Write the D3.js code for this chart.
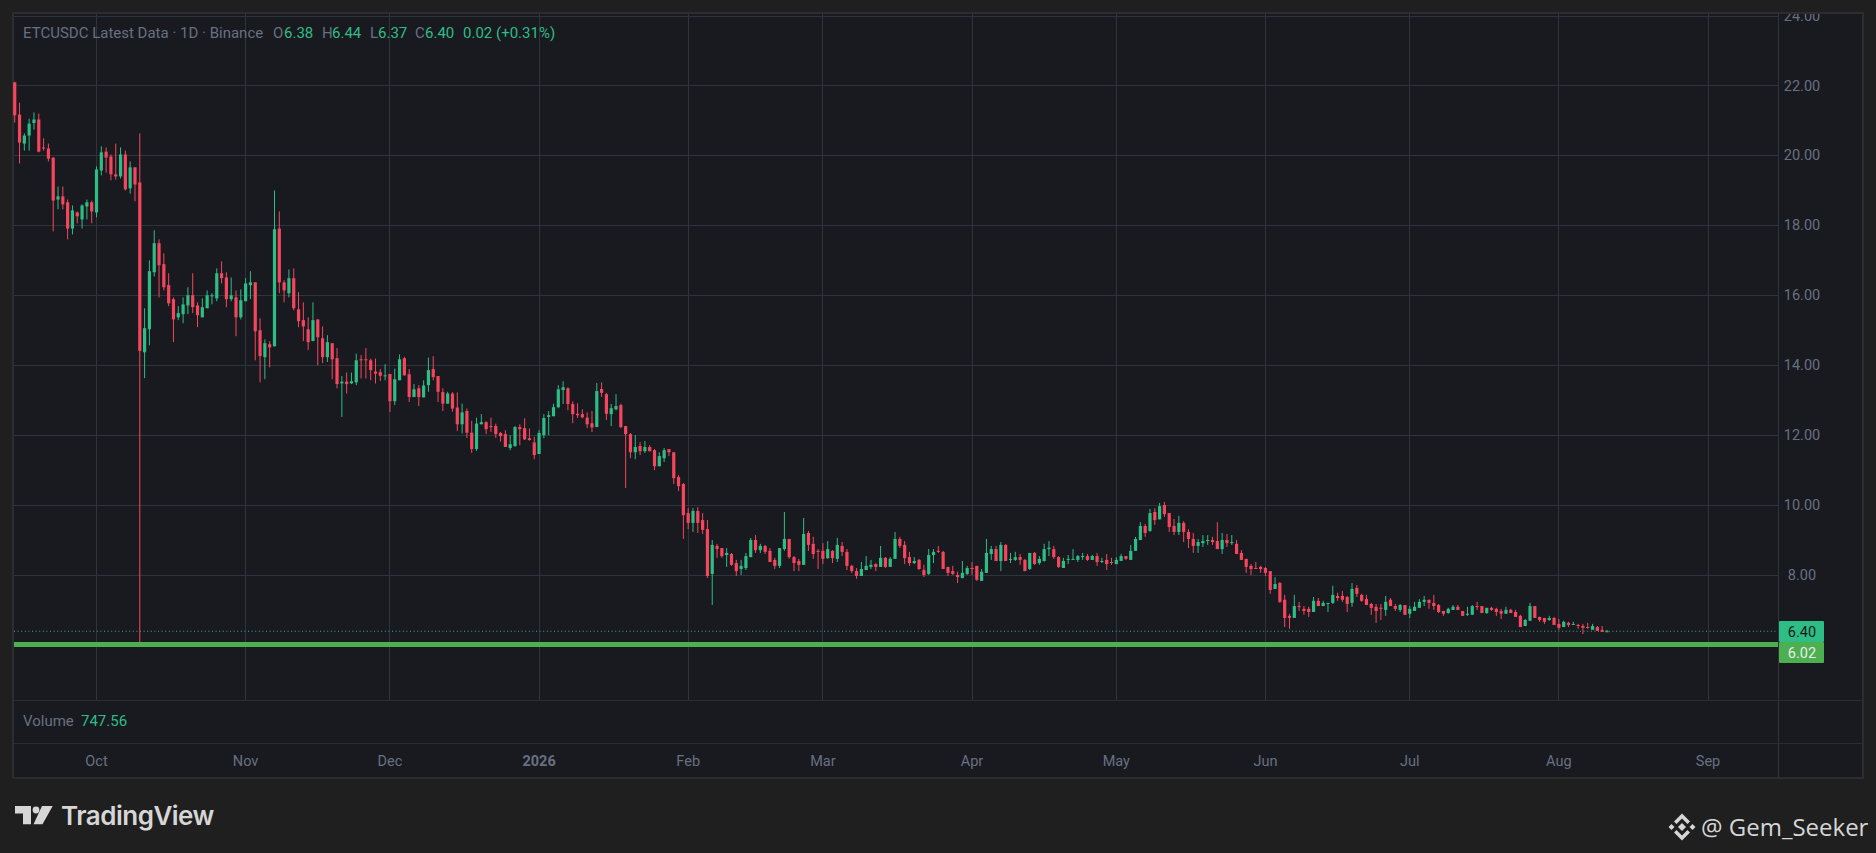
<!DOCTYPE html>
<html>
<head>
<meta charset="utf-8">
<script src="https://cdn.jsdelivr.net/npm/d3@7"></script>
<style>
html, body { margin:0; padding:0; background:#1f1f1f; overflow:hidden; }
text { font-family:Roboto, "Liberation Sans", sans-serif; }
</style>
</head>
<body>
<svg id="chart" width="1876" height="853"></svg>
<script>
// daily candles, first one is 14 Sep 2025
var firstDay = new Date(2025, 8, 14)

var opens = [
22.10,21.18,20.35,20.58,20.94,21.04,20.24,20.21,19.95,18.75,
18.84,18.67,17.92,18.38,18.18,18.55,18.67,18.38,19.58,20.12,
19.98,19.47,19.41,20.04,19.07,19.67,19.24,14.38,15.04,16.67,
17.50,16.90,16.30,15.90,15.38,15.47,15.72,16.01,15.72,15.38,
15.64,15.98,15.92,16.64,16.52,15.90,15.95,15.38,15.84,16.30,
16.38,15.01,14.24,14.61,14.55,17.92,16.38,16.07,16.50,15.61,
15.30,15.04,14.70,15.32,14.78,14.24,14.64,14.21,13.49,13.54,
13.49,13.52,14.18,14.18,14.15,13.83,13.81,13.70,13.76,12.98,
13.58,14.21,13.75,13.10,13.35,13.09,13.44,13.90,13.70,13.24,
12.91,13.20,12.80,12.32,12.70,12.08,11.61,12.32,12.38,12.27,
12.27,12.07,12.04,11.64,11.70,12.24,12.21,11.92,11.80,11.47,
12.01,12.53,12.55,12.81,13.30,13.35,12.90,12.62,12.61,12.51,
12.35,12.24,13.33,13.18,12.61,12.75,12.87,12.27,12.04,11.52,
11.70,11.55,11.67,11.58,11.12,11.35,11.61,11.52,10.81,10.61,
9.78,9.50,9.84,9.58,9.32,8.04,8.84,8.78,8.58,8.61,
8.35,8.18,8.21,8.52,9.01,8.72,8.84,8.70,8.44,8.27,
8.75,9.04,8.52,8.41,8.30,9.21,8.90,8.70,8.70,8.49,
8.70,8.47,8.84,8.67,8.27,8.12,7.98,8.15,8.24,8.32,
8.24,8.50,8.24,8.47,9.04,8.87,8.52,8.35,8.44,8.15,
8.04,8.58,8.70,8.67,8.24,8.12,8.01,7.92,8.04,8.21,
8.27,7.84,8.07,8.61,8.75,8.41,8.87,8.44,8.44,8.52,
8.44,8.18,8.64,8.35,8.41,8.75,8.75,8.52,8.21,8.44,
8.44,8.44,8.52,8.55,8.44,8.55,8.38,8.44,8.38,8.32,
8.41,8.55,8.44,8.70,9.01,9.41,9.27,9.81,9.60,10.01,
9.78,9.41,9.24,9.50,9.24,9.04,8.84,8.92,8.98,9.01,
8.98,8.75,9.01,8.92,8.90,8.64,8.47,8.27,8.21,8.24,
8.21,8.12,7.61,7.78,7.30,6.84,6.78,7.12,7.04,7.04,
6.95,7.27,7.12,7.18,7.21,7.41,7.41,7.38,7.21,7.64,
7.44,7.32,7.18,7.10,7.07,7.01,7.30,7.12,7.01,7.15,
6.90,6.98,7.07,7.24,7.30,7.21,7.15,6.98,6.92,7.01,
7.10,6.98,6.87,6.87,7.12,7.12,6.92,7.07,7.04,6.98,
6.90,7.01,6.95,6.84,6.55,6.70,7.12,6.81,6.78,6.72,
6.78,6.61,6.52,6.64,6.58,6.58,6.55,6.52,6.44,6.52,6.44,6.38
]
var highs = [
22.12,21.52,20.64,21.06,21.24,21.21,20.50,20.35,19.95,19.12,
19.12,18.75,18.58,18.41,18.61,18.75,18.72,19.70,20.27,20.24,
20.04,20.35,20.24,20.15,19.84,19.67,20.64,15.64,17.01,17.87,
17.61,17.21,16.64,15.95,15.70,15.95,16.24,16.64,15.81,15.92,
16.15,16.07,16.78,16.98,16.67,16.52,16.15,16.18,16.50,16.70,
16.38,15.35,14.75,14.70,19.01,18.41,16.44,16.75,16.78,16.10,
15.81,15.38,15.81,15.32,15.12,14.87,14.64,14.50,13.70,13.80,
13.80,14.34,14.30,14.50,14.20,14.20,13.90,14.04,13.76,13.91,
14.32,14.25,13.90,13.47,13.44,13.58,14.23,14.27,13.70,13.35,
13.25,13.24,13.23,12.91,12.77,12.42,12.51,12.61,12.41,12.51,
12.34,12.10,12.15,12.01,12.27,12.32,12.49,12.20,11.96,12.15,
12.61,12.70,12.91,13.44,13.55,13.38,12.98,12.92,12.75,12.66,
12.70,13.50,13.52,13.22,12.90,13.18,12.91,12.27,12.07,12.01,
11.81,11.84,11.72,11.61,11.52,11.64,11.61,11.52,10.87,10.64,
9.92,9.92,9.95,9.78,9.58,9.01,8.90,8.78,8.78,8.64,
8.44,8.44,8.64,9.07,9.15,8.90,8.87,8.78,8.50,8.78,
9.81,9.04,8.55,8.47,9.64,9.27,9.10,8.75,8.92,8.98,
8.72,9.07,8.95,8.75,8.30,8.21,8.38,8.55,8.44,8.35,
8.84,8.52,8.52,9.24,9.10,8.98,8.67,8.52,8.47,8.30,
8.75,8.75,8.84,8.70,8.24,8.27,8.10,8.41,8.27,8.38,
8.27,8.18,9.04,8.84,8.84,8.95,8.89,8.64,8.67,8.61,
8.47,8.64,8.67,8.55,8.90,8.98,8.84,8.55,8.50,8.58,
8.75,8.58,8.64,8.61,8.58,8.64,8.50,8.61,8.50,8.52,
8.61,8.55,8.87,9.10,9.52,9.47,9.90,9.92,10.07,10.10,
9.78,9.61,9.70,9.55,9.32,9.21,9.04,9.15,9.15,9.10,
9.52,9.21,9.18,9.15,9.01,8.72,8.47,8.32,8.38,8.27,
8.24,8.12,7.95,7.81,7.44,6.90,7.44,7.24,7.12,7.10,
7.38,7.35,7.27,7.21,7.70,7.50,7.55,7.41,7.78,7.72,
7.47,7.44,7.21,7.18,7.18,7.41,7.35,7.18,7.18,7.15,
7.12,7.24,7.32,7.41,7.30,7.44,7.18,6.98,7.07,7.15,
7.15,6.98,7.10,7.15,7.24,7.12,7.07,7.10,7.07,7.04,
7.10,7.04,7.01,6.87,6.75,7.21,7.12,6.81,6.78,6.84,
6.81,6.75,6.70,6.67,6.67,6.61,6.61,6.64,6.61,6.55,6.55,6.44
]
var lows = [
20.95,19.78,20.15,20.15,20.75,20.10,20.15,19.84,17.84,18.47,
18.47,17.61,17.75,18.07,17.92,18.18,18.07,18.24,19.44,19.52,
19.30,19.32,19.35,19.01,18.92,18.70,6.09,13.64,14.58,16.55,
15.95,16.15,15.70,14.67,15.30,15.21,15.47,15.50,15.10,15.38,
15.64,15.75,15.84,16.35,15.67,15.84,14.84,15.32,15.84,15.90,
14.15,13.52,13.61,13.95,14.55,16.07,15.81,15.95,15.58,15.10,
14.70,14.44,14.70,14.01,14.07,14.10,13.61,13.35,12.53,13.20,
13.47,13.44,13.63,13.63,13.58,13.49,13.56,13.58,12.67,12.87,
13.58,13.72,12.96,13.10,12.84,13.09,13.25,13.58,12.96,12.70,
12.91,12.68,12.13,12.06,11.93,11.50,11.56,12.32,12.04,12.10,
11.93,11.82,11.67,11.58,11.67,11.72,11.87,11.85,11.32,11.47,
11.92,12.01,12.55,12.78,12.90,12.72,12.35,12.50,12.49,12.21,
12.10,12.24,13.10,12.44,12.27,12.72,12.21,10.50,11.35,11.32,
11.44,11.50,11.55,11.01,11.12,11.24,11.41,10.61,10.41,9.04,
9.32,9.24,9.21,9.18,7.92,7.15,8.50,8.50,8.24,8.27,
7.98,8.01,8.15,8.52,8.64,8.64,8.61,8.38,8.18,8.21,
8.70,8.47,8.12,8.12,8.30,8.70,8.47,8.18,8.32,8.47,
8.35,8.38,8.55,8.15,8.07,7.90,7.98,8.15,8.18,8.12,
8.24,8.21,8.24,8.47,8.78,8.32,8.27,8.32,8.15,7.95,
8.01,8.35,8.64,8.18,7.98,8.01,7.78,7.92,8.01,8.01,
7.84,7.84,8.07,8.44,8.41,8.12,8.41,8.35,8.41,8.30,
8.12,8.15,8.30,8.30,8.39,8.55,8.47,8.21,8.21,8.32,
8.44,8.38,8.44,8.41,8.44,8.27,8.35,8.15,8.30,8.32,
8.41,8.44,8.44,8.70,9.01,9.10,9.24,9.44,9.60,9.67,
9.24,9.15,9.15,8.95,8.78,8.64,8.64,8.81,8.87,8.87,
8.75,8.61,8.81,8.87,8.61,8.44,8.07,8.01,8.18,8.07,
7.98,7.47,7.61,7.21,6.52,6.47,6.78,6.98,6.87,6.81,
6.95,7.12,7.12,6.95,7.18,7.27,7.24,6.95,7.10,7.38,
7.24,7.15,6.87,6.64,6.72,6.84,7.12,6.98,6.95,6.87,
6.78,6.98,7.07,7.12,7.04,7.01,6.92,6.84,6.90,7.01,
7.01,6.84,6.84,6.87,7.01,6.92,6.90,6.98,6.84,6.75,
6.90,6.92,6.81,6.52,6.55,6.70,6.78,6.67,6.61,6.70,
6.58,6.44,6.52,6.52,6.58,6.47,6.32,6.47,6.44,6.41,6.38,6.37
]
var closes = [
21.16,20.38,20.58,20.92,21.04,20.12,20.21,19.92,18.72,18.84,
18.61,17.92,18.44,18.27,18.58,18.67,18.41,19.61,20.10,19.95,
19.47,19.41,20.04,19.04,19.67,19.18,14.42,15.07,16.70,17.50,
16.87,16.24,15.78,15.32,15.50,15.75,16.01,15.67,15.44,15.67,
16.01,16.01,16.64,16.50,15.90,16.01,15.38,15.87,16.35,16.38,
14.98,14.27,14.64,14.52,17.90,16.38,16.15,16.50,15.64,15.27,
15.12,14.67,15.30,14.81,14.24,14.67,14.18,13.47,13.54,13.47,
13.55,14.15,14.15,14.15,13.87,13.77,13.71,13.72,12.98,13.61,
14.18,13.72,13.10,13.32,13.10,13.43,13.87,13.67,13.25,12.91,
13.20,12.77,12.32,12.66,12.08,11.61,12.34,12.38,12.18,12.24,
12.04,11.98,11.67,11.75,12.24,12.18,11.89,11.87,11.44,12.07,
12.50,12.58,12.81,13.32,13.38,12.90,12.61,12.58,12.52,12.32,
12.23,13.27,13.22,12.62,12.78,12.84,12.24,12.04,11.52,11.67,
11.55,11.67,11.55,11.12,11.41,11.58,11.52,10.78,10.55,9.72,
9.50,9.84,9.50,9.30,7.98,8.87,8.75,8.55,8.64,8.30,
8.12,8.27,8.55,9.01,8.72,8.84,8.67,8.38,8.27,8.78,
9.04,8.52,8.35,8.30,9.18,8.87,8.61,8.67,8.47,8.75,
8.49,8.87,8.67,8.27,8.12,7.98,8.18,8.27,8.30,8.24,
8.50,8.24,8.47,9.04,8.84,8.49,8.35,8.41,8.18,8.01,
8.58,8.67,8.67,8.18,8.07,8.04,7.95,8.07,8.21,8.18,
7.87,8.10,8.64,8.75,8.41,8.87,8.41,8.47,8.52,8.44,
8.12,8.64,8.32,8.47,8.75,8.79,8.52,8.24,8.41,8.47,
8.47,8.55,8.55,8.44,8.55,8.38,8.41,8.32,8.35,8.44,
8.55,8.47,8.70,9.04,9.41,9.21,9.78,9.58,9.98,9.75,
9.38,9.24,9.50,9.24,9.04,8.84,8.95,8.98,9.01,8.95,
8.75,9.01,8.92,8.95,8.61,8.44,8.24,8.18,8.18,8.18,
8.07,7.58,7.75,7.24,6.78,6.78,7.12,7.10,6.98,6.95,
7.27,7.12,7.21,7.21,7.44,7.35,7.30,7.18,7.61,7.47,
7.27,7.15,7.07,6.98,7.04,7.24,7.12,7.04,7.15,6.87,
7.04,7.10,7.24,7.30,7.21,7.12,6.95,6.90,7.04,7.10,
7.01,6.84,6.90,7.12,7.10,6.92,7.07,7.01,6.95,6.90,
7.01,6.92,6.81,6.52,6.72,7.12,6.78,6.72,6.67,6.78,
6.58,6.50,6.67,6.58,6.61,6.55,6.50,6.50,6.55,6.41,6.38,6.40
]

var priceTicks = [8,10,12,14,16,18,20,22,24]
var monthTicks = ['2025-10-01','2025-11-01','2025-12-01','2026-01-01','2026-02-01','2026-03-01',
                  '2026-04-01','2026-05-01','2026-06-01','2026-07-01','2026-08-01','2026-09-01']
var monthLabels = ['Oct','Nov','Dec','2026','Feb','Mar','Apr','May','Jun','Jul','Aug','Sep']
var lastPrice = 6.40
var levelPrice = 6.02

var up = '#2ebd85', down = '#f6465d', levelColor = '#4caf50'
var gridColor = '#2f333e', tickColor = '#687080', panelColor = '#181a20', edgeColor = '#2b2d31'

// window.top can't be reassigned, hence paneTop
var paneLeft = 14, paneRight = 1778, outerRight = 1862, paneTop = 14, paneBottom = 700, volBottom = 743, chartBottom = 777

var parseDay = d3.timeParse('%Y-%m-%d')
var x = d3.scaleTime()
    .domain([parseDay(monthTicks[0]), parseDay(monthTicks[11])])
    .range([96.5, 1708])
var y = d3.scaleLinear().domain([8, 24]).range([575.3, 16])

var candles = opens.map(function(o, i) {
    return { day:d3.timeDay.offset(firstDay, i), o:o, h:highs[i], l:lows[i], c:closes[i] }
})

var svg = d3.select('#chart')

svg.append('rect').attr('x', paneLeft - 1).attr('y', paneTop - 1)
    .attr('width', outerRight - paneLeft + 2).attr('height', chartBottom - paneTop + 2)
    .attr('fill', panelColor).attr('stroke', edgeColor).attr('stroke-width', 2)

// grids come from the axes, long ticks and no labels
var gridY = svg.append('g').attr('transform', 'translate(' + paneLeft + ',-0.5)')
    .call(d3.axisLeft(y).tickValues(priceTicks).tickSize(-(paneRight - paneLeft)).tickFormat(''))
var gridX = svg.append('g').attr('transform', 'translate(-0.5,' + paneBottom + ')')
    .call(d3.axisBottom(x).tickValues(monthTicks.map(parseDay)).tickSize(-(paneBottom - paneTop)).tickFormat(''))
gridY.select('.domain').remove()
gridX.select('.domain').remove()
svg.selectAll('.tick line').attr('stroke', gridColor).attr('stroke-width', 1).attr('shape-rendering', 'crispEdges')

// pane separators and the price scale edge
function rule(x1, y1, x2, y2) {
    svg.append('line').attr('x1', x1).attr('y1', y1).attr('x2', x2).attr('y2', y2)
        .attr('stroke', '#2a2c31').attr('stroke-width', 1)
}
rule(paneLeft, paneBottom + 0.5, outerRight, paneBottom + 0.5)
rule(paneLeft, volBottom + 0.5, outerRight, volBottom + 0.5)
svg.append('line').attr('x1', paneRight + 0.5).attr('y1', paneTop).attr('x2', paneRight + 0.5).attr('y2', chartBottom)
    .attr('stroke', gridColor)

// last price dotted line
svg.append('line').attr('x1', paneLeft).attr('x2', paneRight)
    .attr('y1', y(lastPrice)).attr('y2', y(lastPrice))
    .attr('stroke', up).attr('stroke-width', 1).attr('stroke-dasharray', '1 2.6')

var marks = svg.append('g').attr('class', 'candles')
marks.selectAll('line').data(candles).enter().append('line')
    .attr('x1', function(d) { return x(d.day) })
    .attr('x2', function(d) { return x(d.day) })
    .attr('y1', function(d) { return y(d.h) })
    .attr('y2', function(d) { return y(d.l) })
    .attr('stroke', function(d) { return d.c >= d.o ? up : down })
    .attr('stroke-width', 1)
marks.selectAll('rect').data(candles).enter().append('rect')
    .attr('x', function(d) { return x(d.day) - 1.6 })
    .attr('width', 3.2)
    .attr('y', function(d) { return y(Math.max(d.o, d.c)) })
    .attr('height', function(d) { return Math.max(1, Math.abs(y(d.o) - y(d.c))) })
    .attr('fill', function(d) { return d.c >= d.o ? up : down })

// horizontal level drawn over the candles
svg.append('line').attr('x1', paneLeft).attr('x2', paneRight)
    .attr('y1', y(levelPrice)).attr('y2', y(levelPrice))
    .attr('stroke', levelColor).attr('stroke-width', 5)

// price axis
var priceAxis = svg.append('g').attr('transform', 'translate(1802,-0.5)')
    .call(d3.axisRight(y).tickValues(priceTicks).tickSize(0).tickPadding(0)
        .tickFormat(function(d) { return d3.format('.2f')(d) }))
priceAxis.select('.domain').remove()
priceAxis.selectAll('text').attr('x', 0).attr('text-anchor', 'middle')
    .attr('fill', tickColor).style('font-size', '14.5px').style('font-family', 'Roboto')
// keep the 24.00 label cut by the panel top, as it is on the picture
svg.append('rect').attr('x', paneRight + 1).attr('y', 0).attr('width', 90).attr('height', paneTop - 2).attr('fill', '#1f1f1f')
svg.append('rect').attr('x', paneRight + 1).attr('y', paneTop - 2).attr('width', 85).attr('height', 2).attr('fill', edgeColor)

// time axis
var timeAxis = svg.append('g').attr('transform', 'translate(-0.5,' + volBottom + ')')
    .call(d3.axisBottom(x).tickValues(monthTicks.map(parseDay)).tickSize(0).tickPadding(0)
        .tickFormat(function(d, i) { return monthLabels[i] }))
timeAxis.select('.domain').remove()
timeAxis.selectAll('text').attr('y', 18).attr('dy', '0.35em')
    .attr('fill', tickColor).style('font-size', '14.5px').style('font-family', 'Roboto')
    .style('font-weight', function(d, i) { return monthLabels[i] == '2026' ? 700 : 400 })

// price tags on the scale
function tag(value, color, ink, y0, h) {
    svg.append('rect').attr('x', paneRight + 1).attr('y', y0).attr('width', 45).attr('height', h)
        .attr('rx', 1).attr('fill', color)
    svg.append('text').attr('x', 1802).attr('y', y0 + h / 2).attr('dy', '0.36em')
        .attr('text-anchor', 'middle').attr('fill', ink).style('font-size', '14.5px')
        .text(d3.format('.2f')(value))
}
tag(lastPrice, up, '#181a20', 621, 21)
tag(levelPrice, levelColor, '#eaeaea', 642, 21)

// legend line
function label(px, py, txt, color, size) {
    return svg.append('text').attr('x', px).attr('y', py).attr('dy', '0.35em')
        .attr('fill', color).style('font-size', (size || 15) + 'px').text(txt)
}
label(23, 33, 'ETCUSDC Latest Data · 1D · Binance', tickColor)
label(273, 33, 'O', tickColor); label(284, 33, '6.38', up)
label(322, 33, 'H', tickColor); label(332, 33, '6.44', up)
label(370, 33, 'L', tickColor); label(378, 33, '6.37', up)
label(415, 33, 'C', tickColor); label(425, 33, '6.40', up)
label(463, 33, '0.02', up); label(496, 33, '(+0.31%)', up)
label(23, 721, 'Volume', tickColor); label(81, 721, '747.56', up)

// TradingView mark and name
var brand = '#d6d6d6'
svg.append('path').attr('fill', brand)
    .attr('d', 'M15 806H31V824.3H23V813.5H15Z M42 806H52.7L42.5 824.3H33.5Z')
svg.append('circle').attr('cx', 36).attr('cy', 810).attr('r', 3.4).attr('fill', brand)
svg.append('text').attr('x', 61).attr('y', 824.5).attr('fill', brand)
    .style('font-family', 'Inter').style('font-size', '26px').style('font-weight', 600)
    .style('letter-spacing', '-0.5px').text('TradingView')

// watermark bottom right
var mark = svg.append('g').attr('transform', 'translate(1682,827)').attr('fill', brand)
mark.append('path').attr('d', 'M0 -4L4 0L0 4L-4 0Z')
mark.append('path').attr('d', 'M-13.5 0L-10.5 -3L-7.5 0L-10.5 3Z M13.5 0L10.5 -3L7.5 0L10.5 3Z')
mark.append('path').attr('d', 'M0 -13.5L8 -5.5L5.5 -3L0 -8.5L-5.5 -3L-8 -5.5Z')
mark.append('path').attr('d', 'M0 13.5L8 5.5L5.5 3L0 8.5L-5.5 3L-8 5.5Z')
svg.append('text').attr('x', 1701).attr('y', 835.5).attr('fill', brand)
    .style('font-family', 'Open Sans').style('font-size', '24px').text('@ Gem_Seeker')
</script>
</body>
</html>
